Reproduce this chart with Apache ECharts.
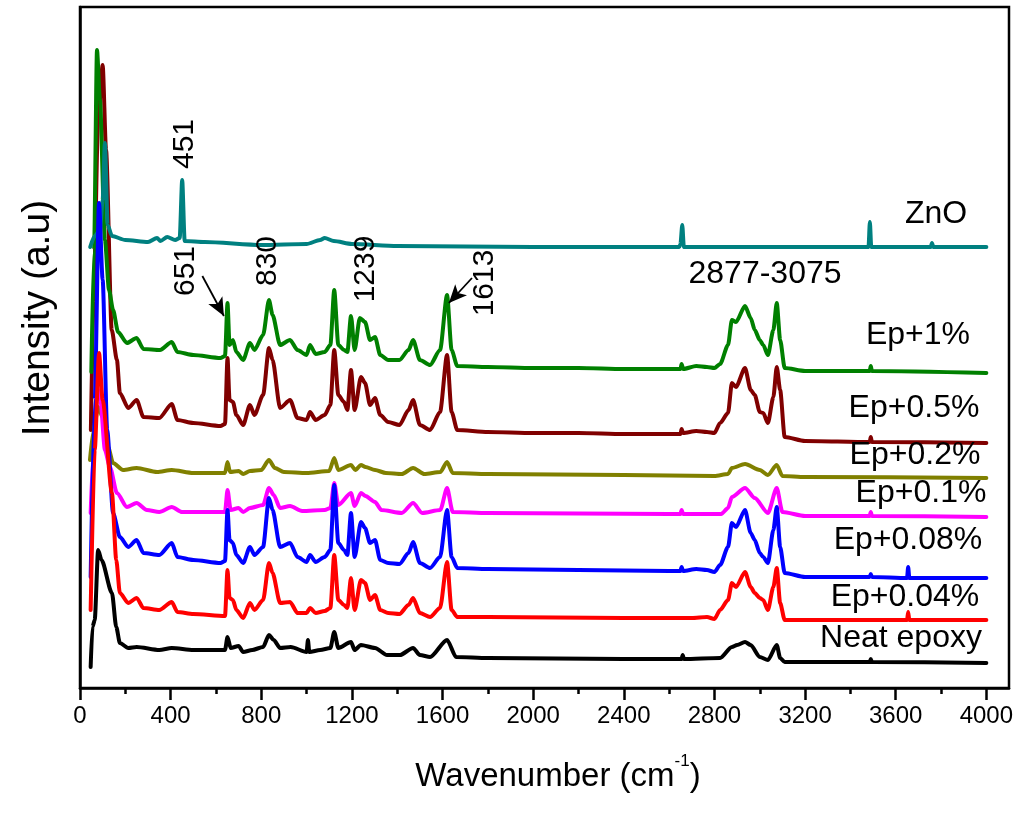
<!DOCTYPE html>
<html><head><meta charset="utf-8">
<script src="https://cdn.jsdelivr.net/npm/echarts@6/dist/echarts.min.js"></script>
<style>html,body{margin:0;padding:0;background:#fff;}#c{width:1029px;height:815px;}</style>
</head><body><div id="c"></div>
<script>
// x tick labels (wavenumber, cm^-1)
const majorTicks = [0,400,800,1200,1600,2000,2400,2800,3200,3600,4000];
const minorTicks = [200,600,1000,1400,1800,2200,2600,3000,3400,3800];

// series names
const seriesNames = ['ZnO','Ep+1%','Ep+0.5%','Ep+0.2%','Ep+0.1%','Ep+0.08%','Ep+0.04%','Neat epoxy'];

// [wavenumber, intensity (offset, arbitrary units)]
const znO = [[45,441],[65,452],[88,458],[100,488],[110,545],[122,463],[141,452],[200,448],[300,446],[340,450],[355,447],[385,451],[420,448],[440,450],[451,508],[462,447],[550,446],[800,443],[1000,444],[1060,448],[1080,450],[1120,447],[1200,444],[1400,442],[2000,441],[2645,441],[2650,444],[2658,463],[2665,441],[3000,441],[3480,441],[3486,466],[3492,441],[3755,441],[3760,445],[3766,441],[4000,441]];

const ep1 = [[50,316],[62,438],[75,638],[88,588],[110,448],[128,398],[146,378],[168,356],[207,345],[250,350],[280,339],[353,338],[405,346],[430,336],[500,333],[620,330],[640,332],[651,385],[660,343],[675,348],[690,336],[720,328],[750,345],[770,338],[808,353],[834,388],[850,373],[883,343],[927,348],[960,338],[1000,333],[1015,343],[1040,334],[1080,336],[1105,343],[1122,398],[1140,343],[1165,338],[1180,336],[1196,372],[1212,338],[1235,370],[1258,366],[1280,348],[1302,351],[1325,333],[1360,328],[1410,328],[1450,338],[1470,348],[1500,328],[1545,323],[1589,338],[1620,393],[1640,338],[1665,322],[1800,321],[2000,320],[2200,320],[2400,319],[2600,319],[2650,319],[2655,324],[2662,319],[2720,322],[2767,321],[2800,320],[2825,324],[2860,343],[2877,368],[2895,366],[2935,382],[2960,370],[2978,358],[3000,348],[3015,343],[3036,333],[3060,358],[3075,385],[3090,348],[3110,320],[3200,317],[3485,317],[3490,322],[3495,317],[4000,315]];

const ep05 = [[48,258],[60,388],[80,568],[100,623],[115,538],[140,358],[163,328],[176,295],[213,280],[250,288],[280,271],[350,270],[405,284],[430,268],[500,265],[620,262],[640,264],[651,330],[660,288],[675,286],[690,273],[720,263],[750,283],[770,273],[808,293],[834,340],[850,328],[883,280],[927,288],[960,270],[1000,268],[1015,276],[1040,268],[1080,273],[1105,283],[1122,338],[1140,293],[1165,286],[1180,278],[1196,318],[1212,278],[1240,311],[1258,305],[1280,283],[1302,290],[1325,273],[1360,266],[1410,263],[1450,278],[1470,288],[1500,263],[1545,258],[1589,276],[1620,333],[1640,276],[1665,258],[1800,256],[2000,255],[2200,255],[2400,254],[2600,254],[2650,254],[2655,259],[2662,255],[2720,257],[2767,256],[2800,255],[2825,265],[2860,275],[2877,305],[2895,301],[2935,320],[2960,298],[2978,293],[3000,276],[3015,275],[3036,265],[3060,291],[3075,321],[3090,298],[3110,251],[3200,247],[3485,246],[3490,251],[3495,246],[4000,245]];

const ep02 = [[44,228],[60,258],[80,281],[100,271],[124,241],[146,225],[190,218],[250,220],[340,216],[405,218],[500,215],[640,215],[651,226],[662,216],[700,217],[720,214],[750,217],[800,218],[834,228],[860,220],[900,216],[1000,215],[1100,217],[1122,230],[1140,218],[1196,223],[1215,218],[1240,223],[1260,221],[1302,218],[1350,215],[1420,214],[1470,220],[1520,214],[1590,216],[1620,226],[1645,215],[1800,214],[2400,213],[2800,212],[2860,214],[2877,220],[2935,224],[3000,218],[3036,213],[3075,223],[3100,212],[3200,211],[4000,210]];

const ep01 = [[47,175],[60,238],[75,301],[90,288],[110,238],[132,221],[163,195],[207,181],[250,185],[295,178],[350,176],[405,181],[450,176],[640,176],[651,198],[665,178],[700,180],[720,176],[750,180],[808,183],[834,200],[855,193],[883,180],[927,182],[980,177],[1080,178],[1105,180],[1122,205],[1140,183],[1196,195],[1212,182],[1240,195],[1260,192],[1302,186],[1330,178],[1420,175],[1470,185],[1510,175],[1590,178],[1620,200],[1645,176],[1800,175],[2600,174],[2650,174],[2655,178],[2662,174],[2830,174],[2860,180],[2877,191],[2935,200],[2978,190],[3036,175],[3075,200],[3100,176],[3200,172],[3485,172],[3490,176],[3495,172],[4000,171]];

const ep008 = [[47,111],[65,288],[84,485],[100,408],[120,258],[146,175],[176,151],[213,141],[250,148],[280,135],[350,133],[405,145],[430,131],[500,128],[620,125],[640,127],[651,178],[660,148],[675,145],[690,133],[720,125],[750,141],[770,133],[808,141],[834,190],[850,178],[883,141],[927,145],[960,131],[1000,126],[1015,133],[1040,126],[1080,131],[1105,138],[1122,203],[1140,145],[1165,138],[1180,133],[1196,175],[1212,131],[1240,166],[1258,160],[1280,145],[1302,148],[1325,128],[1360,125],[1410,124],[1450,135],[1470,146],[1500,125],[1545,120],[1589,131],[1620,178],[1640,131],[1665,120],[1800,119],[2200,118],[2600,117],[2650,117],[2655,121],[2662,117],[2720,119],[2767,118],[2800,116],[2825,123],[2860,141],[2877,165],[2895,161],[2935,178],[2960,155],[2978,148],[3000,135],[3015,131],[3036,125],[3060,158],[3075,181],[3090,141],[3110,115],[3200,111],[3485,111],[3490,114],[3495,111],[3650,110],[3655,121],[3660,110],[4000,110]];

const ep004 = [[47,78],[65,238],[84,335],[100,288],[141,195],[160,128],[176,95],[213,85],[250,90],[280,80],[350,78],[405,86],[430,76],[500,74],[640,72],[651,118],[660,90],[675,88],[690,78],[720,70],[750,85],[770,78],[808,88],[834,125],[850,115],[883,85],[927,86],[960,75],[1000,75],[1015,80],[1040,75],[1080,77],[1105,80],[1122,133],[1140,88],[1165,83],[1180,80],[1196,110],[1212,78],[1240,108],[1258,105],[1280,88],[1302,93],[1325,78],[1360,75],[1410,74],[1450,83],[1470,90],[1500,75],[1545,71],[1589,80],[1620,126],[1640,78],[1665,71],[1800,71],[2400,70],[2700,70],[2767,71],[2800,69],[2825,78],[2860,88],[2877,105],[2895,101],[2935,116],[2960,101],[2978,95],[3000,90],[3015,88],[3036,78],[3060,101],[3075,120],[3090,85],[3110,68],[3650,68],[3655,76],[3660,68],[4000,68]];

const neat = [[47,21],[55,61],[65,68],[80,138],[95,128],[141,95],[160,61],[176,45],[213,40],[250,41],[350,38],[405,40],[500,38],[640,38],[651,51],[665,40],[700,42],[720,36],[760,38],[808,41],[834,53],[855,48],[883,40],[930,41],[1000,36],[1006,48],[1012,36],[1060,38],[1105,40],[1122,56],[1140,40],[1196,46],[1212,38],[1240,43],[1302,40],[1355,33],[1412,33],[1470,40],[1500,33],[1545,31],[1620,48],[1660,31],[1800,30],[2400,29],[2655,29],[2660,33],[2665,29],[2825,30],[2877,41],[2900,43],[2935,46],[2960,43],[3000,31],[3036,28],[3075,43],[3090,30],[3110,26],[3485,26],[3490,29],[3495,26],[4000,25]];

const seriesData = [znO, ep1, ep05, ep02, ep01, ep008, ep004, neat];
const seriesColors = ['#008080','#008000','#800000','#808000','#ff00ff','#0000ff','#ff0000','#000000'];
// drawing order (back to front)
const drawOrder = [2,1,0,3,4,5,6,7];

const chart = echarts.init(document.getElementById('c'), null, {renderer:'canvas'});
const FONT = "'Liberation Sans', Arial, sans-serif";

const series = drawOrder.map((i, k) => ({
  name: seriesNames[i], type: 'line', data: seriesData[i], showSymbol: false, symbol: 'none',
  lineStyle: {color: seriesColors[i], width: 4, join: 'round', cap: 'round'}, itemStyle: {color: seriesColors[i]},
  smooth: 0.25, smoothMonotone: 'x', animation: false, z: 2, zlevel: 0
}));
// arrows anchored in data coordinates
series.push({
  type: 'line', data: [], silent: true, animation: false, z: 5,
  markLine: {
    silent: true, symbol: ['none', 'arrow'], symbolSize: [12, 18], animation: false,
    lineStyle: {color: '#000', width: 1.8, type: 'solid'}, label: {show: false},
    data: [
      [{coord: [540, 412]}, {coord: [635, 372]}],
      [{coord: [1730, 410]}, {coord: [1628, 385]}]
    ]
  }
});

// text annotations
const mk = (txt, x, y, size, rotated) => ({type: 'text', x: x, y: y, rotation: rotated ? Math.PI/2 : 0, z: 100,
  style: {text: txt, textAlign: 'center', textVerticalAlign: 'middle', fill: '#000', font: size + 'px ' + FONT}});

const seriesLabelPos = [[936,214],[918,335],[914,408],[915,455],[921,493],[908,540],[905,597],[901,638]];

const graphics = [
  mk('451', 185, 144, 30, true), mk('651', 186, 271, 30, true), mk('830', 268, 261, 30, true),
  mk('1239', 366, 269, 30, true), mk('1613', 485, 283, 30, true),
  mk('2877-3075', 765, 274, 32, false),
  mk('Intensity (a.u)', 38, 318, 39, true),
  {type: 'text', x: 558, y: 773, z: 100, style: {
    text: '{a|Wavenumber (cm}{b|-1}{a|)}', textAlign: 'center', textVerticalAlign: 'middle',
    rich: {a: {fontSize: 33, fontFamily: FONT, fill: '#000', lineHeight: 40, verticalAlign: 'bottom'},
           b: {fontSize: 17, fontFamily: FONT, fill: '#000', lineHeight: 40, verticalAlign: 'top'}}}}
].concat(seriesNames.map((n, i) => mk(n, seriesLabelPos[i][0], seriesLabelPos[i][1], 32, false)));

chart.setOption({
  animation: false,
  backgroundColor: '#fff',
  grid: {left: 80, right: 20, top: 7, bottom: 127, show: true, borderColor: '#000', borderWidth: 2.5, containLabel: false},
  xAxis: [{
    type: 'value', min: 0, max: 4100, interval: 400, position: 'bottom',
    axisLine: {show: true, lineStyle: {color: '#000', width: 2.5}},
    axisTick: {show: true, inside: false, length: 12, lineStyle: {color: '#000', width: 2.5}, customValues: majorTicks},
    axisLabel: {show: true, customValues: majorTicks, color: '#000', fontSize: 24, fontFamily: FONT, margin: 16,
      formatter: v => String(v)},
    splitLine: {show: false}
  }, {
    type: 'value', min: 0, max: 4100, position: 'bottom', gridIndex: 0,
    axisLine: {show: false},
    axisTick: {show: true, inside: false, length: 6, lineStyle: {color: '#000', width: 2.5}, customValues: minorTicks},
    axisLabel: {show: false}, splitLine: {show: false}
  }],
  yAxis: {
    type: 'value', min: 0, max: 681,
    axisLine: {show: true, lineStyle: {color: '#000', width: 2.5}},
    axisTick: {show: false}, axisLabel: {show: false}, splitLine: {show: false}
  },
  series: series,
  graphic: graphics
});
</script>
</body></html>
